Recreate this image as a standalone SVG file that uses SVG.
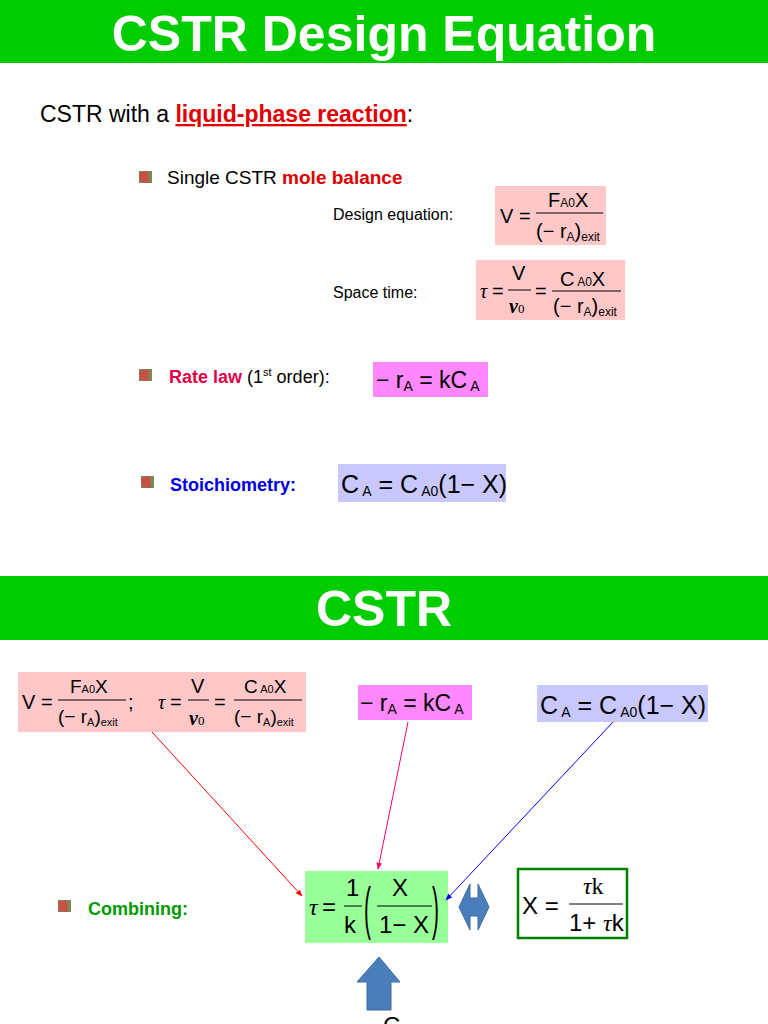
<svg xmlns="http://www.w3.org/2000/svg" width="768" height="1024" viewBox="0 0 768 1024">
<style>
.t{font-family:"Liberation Sans",Arial,sans-serif}
.m{font-family:"Liberation Sans",Arial,sans-serif;fill:#000}
.s{font-family:"Liberation Serif",serif;font-style:italic}
.ln{stroke:#000;stroke-width:1}
</style>
<defs>
<marker id="ar" viewBox="0 0 10 10" refX="9" refY="5" markerWidth="7" markerHeight="7" orient="auto"><path d="M0,1 L10,5 L0,9 z" fill="context-stroke"/></marker>
<g id="bul"><rect x="0" y="0" width="13" height="12" fill="#7a8a50"/><path d="M0,2 L9,0 L10,12 L1,11 z" fill="#c8504a"/></g>
</defs>
<rect width="768" height="1024" fill="#fff"/>
<g id="title1"><rect x="0" y="0" width="768" height="63" fill="#00cc00"/><text x="384" y="51" class="t" font-size="50" font-weight="bold" fill="#fff" text-anchor="middle">CSTR Design Equation</text></g>
<text x="40" y="122" class="t" font-size="23">CSTR with a <tspan fill="#e00000" font-weight="bold" text-decoration="underline">liquid-phase reaction</tspan>:</text>
<use href="#bul" x="139" y="171"/>
<text x="167" y="184" class="t" font-size="19">Single CSTR <tspan fill="#e00000" font-weight="bold">mole balance</tspan></text>
<text x="333" y="220" class="t" font-size="16">Design equation:</text>
<text x="333" y="298" class="t" font-size="16">Space time:</text>
<g id="design"><rect x="495" y="186" width="111" height="59" fill="#ffc8c8"/>
<text x="500" y="223" class="m" font-size="20">V =</text>
<text x="548" y="207" class="m" font-size="20">F<tspan font-size="12">A0</tspan>X</text>
<line x1="536" y1="213" x2="603" y2="213" class="ln"/>
<text x="536" y="238" class="m" font-size="20">(− r<tspan font-size="12" dy="3">A</tspan><tspan dy="-3">)</tspan><tspan font-size="12" dy="3">exit</tspan></text></g>
<g id="space"><rect x="476" y="260" width="149" height="60" fill="#ffc8c8"/>
<text x="480" y="298" class="s" font-size="20">τ</text><text x="492" y="298" class="m" font-size="20">=</text>
<text x="512" y="280" class="m" font-size="20">V</text><line x1="508" y1="290" x2="531" y2="290" class="ln"/>
<text x="509" y="313" class="s" font-size="20" font-weight="bold">ν<tspan font-size="13" font-weight="normal" font-style="normal">0</tspan></text>
<text x="535" y="298" class="m" font-size="20">=</text>
<text x="560" y="286" class="m" font-size="20">C<tspan font-size="12"> A0</tspan>X</text>
<line x1="552" y1="291" x2="621" y2="291" class="ln"/>
<text x="553" y="313" class="m" font-size="20">(− r<tspan font-size="12" dy="3">A</tspan><tspan dy="-3">)</tspan><tspan font-size="12" dy="3">exit</tspan></text></g>
<use href="#bul" x="139" y="369"/>
<text x="169" y="383" class="t" font-size="18"><tspan fill="#e0004a" font-weight="bold">Rate law</tspan> (1<tspan font-size="11" dy="-7">st</tspan><tspan dy="7"> order):</tspan></text>
<g id="rate"><rect x="373" y="362" width="115" height="35" fill="#ff88ff"/>
<text x="376" y="388" class="m" font-size="23">− r<tspan font-size="14" dy="3">A</tspan><tspan dy="-3"> = kC</tspan><tspan font-size="14" dy="3"> A</tspan></text></g>
<use href="#bul" x="141" y="476"/>
<text x="170" y="491" class="t" font-size="18" fill="#0000e0" font-weight="bold">Stoichiometry:</text>
<g id="stoich"><rect x="338" y="464" width="168" height="38" fill="#c8c8ff"/>
<text x="341" y="493" class="m" font-size="25">C<tspan font-size="14" dy="3"> A</tspan><tspan dy="-3"> = C</tspan><tspan font-size="14" dy="3"> A0</tspan><tspan dy="-3">(1− X)</tspan></text></g>
<g id="title2"><rect x="0" y="576" width="768" height="64" fill="#00cc00"/><text x="384" y="626" class="t" font-size="50" font-weight="bold" fill="#fff" text-anchor="middle">CSTR</text></g>
<g id="eqs"><rect x="18" y="672" width="288" height="60" fill="#ffc8c8"/>
<text x="22" y="709" class="m" font-size="20">V =</text>
<text x="70" y="693" class="m" font-size="19">F<tspan font-size="11">A0</tspan>X</text>
<line x1="58" y1="700" x2="126" y2="700" class="ln"/>
<text x="58" y="723" class="m" font-size="19">(− r<tspan font-size="11" dy="3">A</tspan><tspan dy="-3">)</tspan><tspan font-size="11" dy="3">exit</tspan></text>
<text x="128" y="709" class="m" font-size="20">;</text>
<text x="158" y="709" class="s" font-size="20">τ</text><text x="170" y="709" class="m" font-size="20">=</text>
<text x="191" y="693" class="m" font-size="20">V</text><line x1="188" y1="700" x2="209" y2="700" class="ln"/>
<text x="189" y="725" class="s" font-size="20" font-weight="bold">ν<tspan font-size="13" font-weight="normal" font-style="normal">0</tspan></text>
<text x="214" y="709" class="m" font-size="20">=</text>
<text x="244" y="693" class="m" font-size="19">C<tspan font-size="11"> A0</tspan>X</text>
<line x1="234" y1="700" x2="302" y2="700" class="ln"/>
<text x="234" y="723" class="m" font-size="19">(− r<tspan font-size="11" dy="3">A</tspan><tspan dy="-3">)</tspan><tspan font-size="11" dy="3">exit</tspan></text></g>
<g id="rate2"><rect x="358" y="685" width="114" height="35" fill="#ff88ff"/>
<text x="360" y="711" class="m" font-size="23">− r<tspan font-size="14" dy="3">A</tspan><tspan dy="-3"> = kC</tspan><tspan font-size="14" dy="3"> A</tspan></text></g>
<g id="stoich2"><rect x="537" y="685" width="171" height="37" fill="#c8c8ff"/>
<text x="540" y="714" class="m" font-size="25">C<tspan font-size="14" dy="3"> A</tspan><tspan dy="-3"> = C</tspan><tspan font-size="14" dy="3"> A0</tspan><tspan dy="-3">(1− X)</tspan></text></g>
<use href="#bul" x="58" y="900"/>
<text x="88" y="915" class="t" font-size="18" fill="#009900" font-weight="bold">Combining:</text>
<g id="combined"><rect x="305" y="871" width="143" height="72" fill="#99ff99"/>
<text x="309" y="915" class="s" font-size="24">τ</text><text x="322" y="915" class="m" font-size="24">=</text>
<text x="346" y="896" class="m" font-size="24">1</text><line x1="344" y1="906" x2="362" y2="906" class="ln"/>
<text x="344" y="933" class="m" font-size="24">k</text>
<text class="m" font-size="26" transform="translate(364,928) scale(0.8,2.2)">(</text>
<text x="392" y="896" class="m" font-size="24">X</text><line x1="377" y1="906" x2="432" y2="906" class="ln"/>
<text x="379" y="933" class="m" font-size="24">1− X</text>
<text class="m" font-size="26" transform="translate(432,928) scale(0.8,2.2)">)</text></g>
<g id="result"><rect x="518" y="869" width="109" height="69" fill="#fff" stroke="#008000" stroke-width="2.5"/>
<text x="522" y="914" class="m" font-size="24">X =</text>
<text x="583" y="894" class="s" font-size="24">τ<tspan font-style="normal">k</tspan></text>
<line x1="569" y1="904" x2="623" y2="904" class="ln"/>
<text x="569" y="931" class="m" font-size="24">1+ <tspan class="s">τ</tspan>k</text></g>
<g id="dblarrow"><path d="M459,907 L470,884 L470,898 L478,898 L478,884 L489,907 L478,930 L478,916 L470,916 L470,930 Z" fill="#4a7ebb" stroke="#3a6aa0"/></g>
<g id="uparrow"><path d="M379,957 L400,982 L391,982 L391,1010 L367,1010 L367,982 L357,982 Z" fill="#4a7ebb" stroke="#3a6aa0"/></g>
<text x="383" y="1034" class="m" font-size="24">C</text>
<g id="connectors" fill="none">
<line x1="152" y1="732" x2="302" y2="896" stroke="#ff0000" marker-end="url(#ar)"/>
<line x1="408" y1="722" x2="378" y2="869" stroke="#ff0066" marker-end="url(#ar)"/>
<line x1="613" y1="722" x2="446" y2="900" stroke="#0000ff" marker-end="url(#ar)"/>
</g>
</svg>
